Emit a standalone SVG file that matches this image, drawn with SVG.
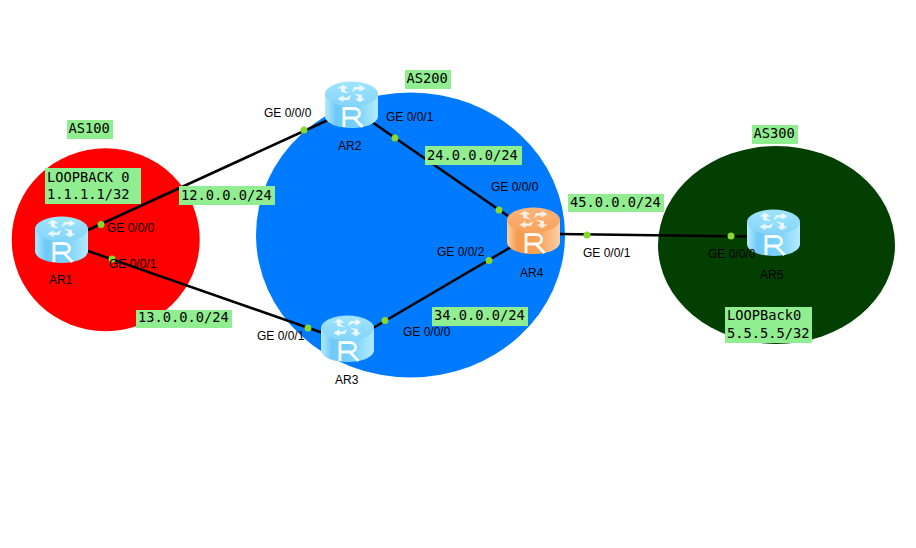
<svg xmlns="http://www.w3.org/2000/svg" xmlns:xlink="http://www.w3.org/1999/xlink" width="916" height="548" viewBox="0 0 916 548">
<style>
.t{font-family:"Liberation Sans",Arial,sans-serif;font-size:12px;fill:#000}
.m{font-family:"DejaVu Sans Mono","Liberation Mono",monospace;font-size:13.7px;fill:#000}
.b{fill:#90ee90}
.l{stroke:#000;stroke-width:2.5;fill:none}
.d{fill:#84d82e}
.r{fill:none;stroke:#fff;stroke-width:2.8;stroke-linejoin:miter;opacity:.95}
</style>
<defs>
<linearGradient id="blueSide" x1="0" x2="1" y1="0" y2="0">
<stop offset="0" stop-color="#b4ebfd"/><stop offset="0.2" stop-color="#6fc9f8"/><stop offset="0.6" stop-color="#7ad2fc"/><stop offset="1" stop-color="#b4ebfd"/>
</linearGradient>
<linearGradient id="blueTop" x1="0" x2="0" y1="0" y2="1">
<stop offset="0" stop-color="#9fe4fd"/><stop offset="1" stop-color="#84d4fa"/>
</linearGradient>
<linearGradient id="orangeSide" x1="0" x2="1" y1="0" y2="0">
<stop offset="0" stop-color="#fdd0a5"/><stop offset="0.2" stop-color="#f59a4c"/><stop offset="0.6" stop-color="#f8a45a"/><stop offset="1" stop-color="#fdd0a5"/>
</linearGradient>
<linearGradient id="orangeTop" x1="0" x2="0" y1="0" y2="1">
<stop offset="0" stop-color="#fbb67c"/><stop offset="1" stop-color="#f7a15a"/>
</linearGradient>
<path id="arr" d="M2.500 -10.500L8 -10.500L8 -14L14 -8.500L8 -3L8 -6.500L4.500 -6.500L0 -2Z" fill="#fff" opacity=".8"/>
<g id="emblem" transform="translate(26.500,12.500) scale(1,.62)">
<use xlink:href="#arr"/><use xlink:href="#arr" transform="rotate(90)"/><use xlink:href="#arr" transform="rotate(180)"/><use xlink:href="#arr" transform="rotate(270)"/>
</g>
<path id="letter" class="r" d="M19 46V27.500H29C36.500 27.500 36.500 37 29 37H19M29 37L37.500 46"/>
<g id="routerBlue">
<path d="M0 13V35C0 42 12 47 26.500 47S53 42 53 35V13Z" fill="url(#blueSide)"/>
<ellipse cx="26.500" cy="13" rx="26.500" ry="12.500" fill="url(#blueTop)"/>
<use xlink:href="#emblem"/><use xlink:href="#letter"/>
</g>
<g id="routerOrange">
<path d="M0 13V35C0 42 12 47 26.500 47S53 42 53 35V13Z" fill="url(#orangeSide)"/>
<ellipse cx="26.500" cy="13" rx="26.500" ry="12.500" fill="url(#orangeTop)"/>
<use xlink:href="#emblem"/><use xlink:href="#letter"/>
</g>
</defs>
<g id="domains">
<ellipse id="as100-area" cx="105.700" cy="239.700" rx="94" ry="91.500" fill="#ff0000"/>
<ellipse id="as200-area" cx="410.500" cy="235" rx="154.500" ry="142.500" fill="#007bff"/>
<ellipse id="as300-area" cx="776.500" cy="245" rx="118.500" ry="99" fill="#033f00"/>
</g>
<g id="connectors">
<line class="l" x1="88" y1="230" x2="328" y2="120"/>
<line class="l" x1="88" y1="251" x2="323" y2="333"/>
<line class="l" x1="372" y1="122" x2="508" y2="216"/>
<line class="l" x1="373" y1="328" x2="511" y2="247"/>
<line class="l" x1="560" y1="234" x2="748" y2="236.500"/>
</g>
<g id="ports">
<circle class="d" cx="101" cy="224.500" r="3.500"/>
<circle class="d" cx="112" cy="259" r="3.500"/>
<circle class="d" cx="304" cy="130" r="3.500"/>
<circle class="d" cx="395" cy="138" r="3.500"/>
<circle class="d" cx="499" cy="210" r="3.500"/>
<circle class="d" cx="489" cy="260.500" r="3.500"/>
<circle class="d" cx="385" cy="320.500" r="3.500"/>
<circle class="d" cx="308" cy="328" r="3.500"/>
<circle class="d" cx="587" cy="235" r="3.500"/>
<circle class="d" cx="731" cy="236" r="3.500"/>
</g>
<g id="AR1"><use xlink:href="#routerBlue" x="35" y="216"/><text class="t" x="49" y="284">AR1</text></g>
<g id="AR2"><use xlink:href="#routerBlue" x="325" y="81"/><text class="t" x="338" y="150">AR2</text></g>
<g id="AR3"><use xlink:href="#routerBlue" x="321" y="315"/><text class="t" x="335" y="384">AR3</text></g>
<g id="AR4"><use xlink:href="#routerOrange" x="507" y="207"/><text class="t" x="520" y="277">AR4</text></g>
<g id="AR5"><use xlink:href="#routerBlue" x="747" y="209"/><text class="t" x="760" y="279">AR5</text></g>
<g id="port-labels">
<text class="t" x="107" y="232">GE 0/0/0</text>
<text class="t" x="109" y="268">GE 0/0/1</text>
<text class="t" x="264" y="117">GE 0/0/0</text>
<text class="t" x="386" y="121">GE 0/0/1</text>
<text class="t" x="491" y="191">GE 0/0/0</text>
<text class="t" x="437" y="256">GE 0/0/2</text>
<text class="t" x="403" y="336">GE 0/0/0</text>
<text class="t" x="257" y="340">GE 0/0/1</text>
<text class="t" x="583" y="257">GE 0/0/1</text>
<text class="t" x="708" y="258">GE 0/0/0</text>
</g>
<g id="labels">
<rect class="b" x="67" y="120" width="46" height="19"/><text class="m" x="68.500" y="133">AS100</text>
<rect class="b" x="45" y="168" width="96" height="36"/><text class="m" x="47" y="182">LOOPBACK 0</text><text class="m" x="47" y="199">1.1.1.1/32</text>
<rect class="b" x="179" y="186" width="96" height="19"/><text class="m" x="181" y="200">12.0.0.0/24</text>
<rect class="b" x="136" y="310" width="96" height="18"/><text class="m" x="138" y="322">13.0.0.0/24</text>
<rect class="b" x="405" y="70" width="46" height="19"/><text class="m" x="406.500" y="83">AS200</text>
<rect class="b" x="425" y="146" width="97" height="19"/><text class="m" x="427" y="160">24.0.0.0/24</text>
<rect class="b" x="432" y="307" width="96" height="19"/><text class="m" x="434" y="320">34.0.0.0/24</text>
<rect class="b" x="568" y="194" width="96" height="18"/><text class="m" x="570" y="207">45.0.0.0/24</text>
<rect class="b" x="752" y="125" width="46" height="19"/><text class="m" x="753.500" y="138">AS300</text>
<rect class="b" x="725" y="307" width="87" height="36"/><text class="m" x="727" y="320">LOOPBack0</text><text class="m" x="727" y="338">5.5.5.5/32</text>
</g>
</svg>
